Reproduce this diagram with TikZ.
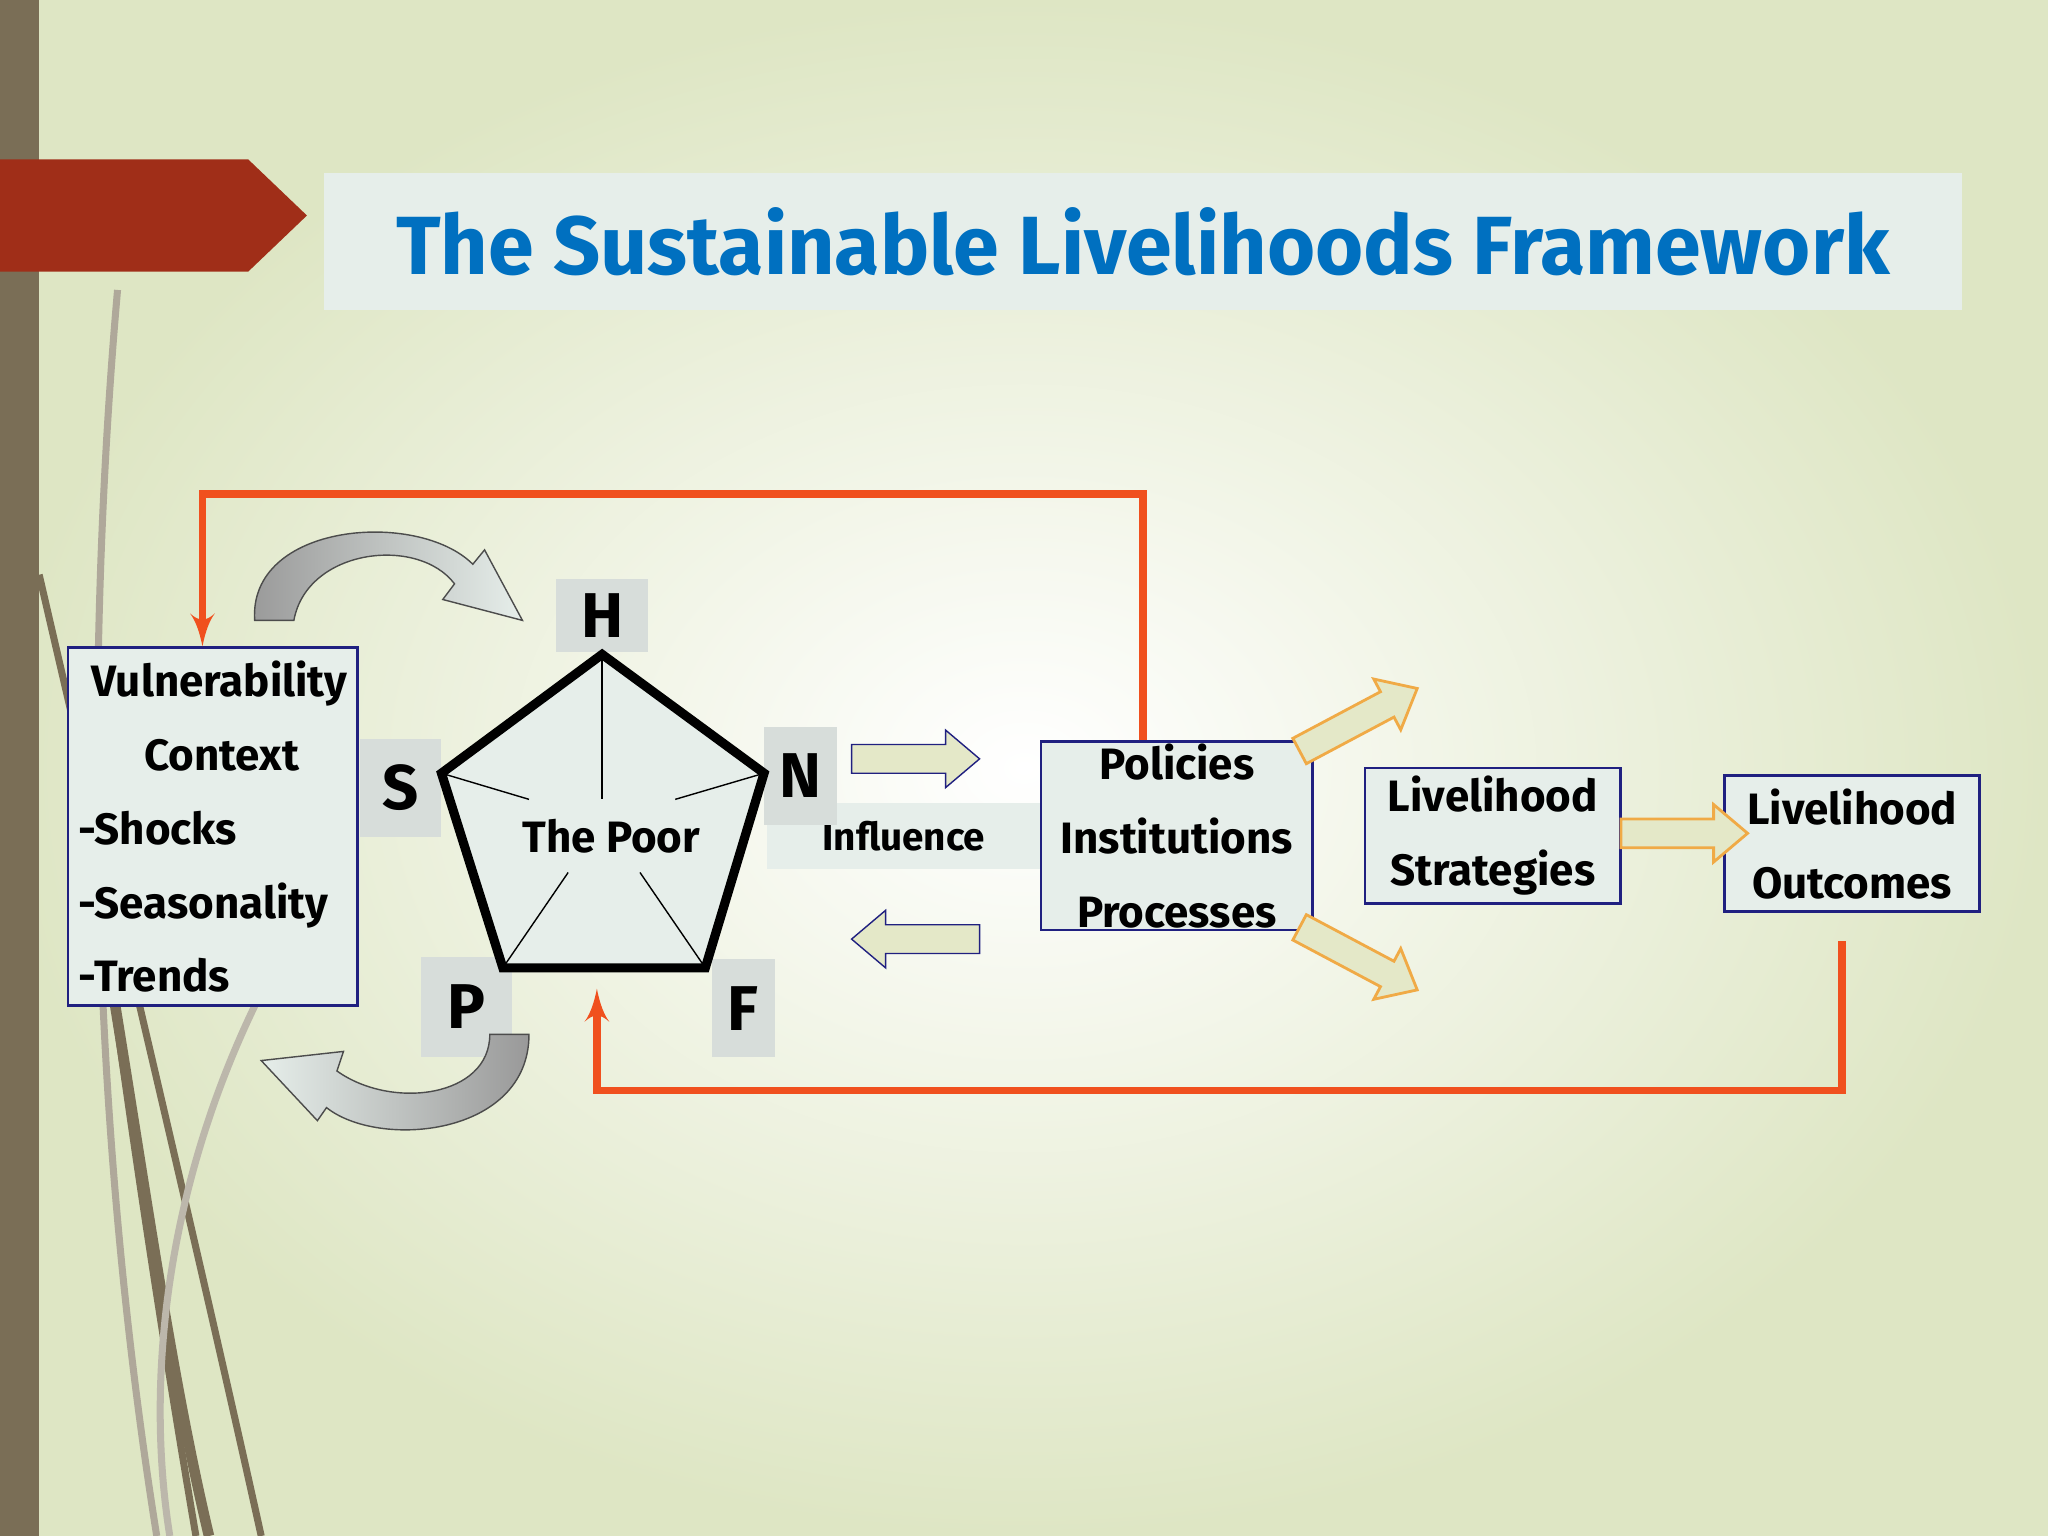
\documentclass[tikz,border=0pt]{standalone}
\usepackage{fontspec}
\setmainfont{Fira Sans}
\usepackage{tikz}
\usetikzlibrary{shapes,arrows,positioning}
\definecolor{bggreen}{RGB}{222,230,196}
\definecolor{boxfill}{RGB}{230,238,234}
\definecolor{navyline}{RGB}{32,32,128}
\definecolor{titleblue}{RGB}{0,112,192}
\definecolor{fbred}{RGB}{240,80,30}
\definecolor{barbrown}{RGB}{122,110,86}
\definecolor{tagred}{RGB}{160,46,24}
\definecolor{orangeline}{RGB}{240,170,70}
\definecolor{arrowfill}{RGB}{228,232,200}
\newdimen\pxu \pxu=0.3716pt
\newcommand*{\blockarrow}[5]{% x, y, angle, length, style
  \begin{scope}[shift={(#1,#2)},rotate=#3]
    \draw[#5] (0,-11) -- (#4-26,-11) -- (#4-26,-22) -- (#4,0) -- (#4-26,22)
      -- (#4-26,11) -- (0,11) -- cycle;
  \end{scope}}
\begin{document}
\begin{tikzpicture}[x=0.013061cm,y=-0.013061cm,
    box/.style ={rectangle, draw=navyline, thick, fill=boxfill,
      font=\bfseries\fontsize{12.5}{21}\selectfont, align=center, inner sep=0pt},
    letter/.style ={rectangle, draw=none, fill=boxfill!85!gray,
      font=\bfseries\fontsize{18}{20}\selectfont, inner sep=0pt},
    feedback/.style ={draw=fbred, line width=2.2pt, -latex'},
    navyarrow/.style ={draw=navyline, fill=arrowfill, thin},
    orangearrow/.style ={draw=orangeline, fill=arrowfill, thick}]
  % background
  \shade[inner color=white, outer color=bggreen] (0,0) rectangle (1568,1176);
  \useasboundingbox (0,0) rectangle (1568,1176);
  \fill[barbrown] (0,0) rectangle (30,1176);
  \fill[tagred] (0,122) -- (190,122) -- (235,165) -- (190,208) -- (0,208) -- cycle;
  % decorative strokes
  \begin{scope}[draw=barbrown, line width=2pt]
    \draw (30,440) .. controls (90,700) and (150,950) .. (200,1176);
    \draw (60,560) .. controls (90,800) and (120,1000) .. (150,1176);
    \draw[line width=3pt] (80,720) .. controls (110,900) and (130,1050) .. (160,1176);
    \draw[barbrown!60] (90,222) .. controls (70,450) and (60,800) .. (120,1176);
    \draw[barbrown!50] (200,760) .. controls (130,900) and (110,1050) .. (130,1176);
  \end{scope}
  % title
  \node[rectangle, fill=boxfill, minimum width=1254\pxu, minimum height=105\pxu, inner sep=0pt,
    font=\bfseries\fontsize{23.5}{26}\selectfont, text=titleblue]
    (title) at (875,185) {The Sustainable Livelihoods Framework};
  % boxes
  \node[box, minimum width=222\pxu, minimum height=274\pxu, align=left] (vuln) at (163,633)
    {\hspace*{0.3em}Vulnerability\\\hspace*{1.5em}Context\\-Shocks\\-Seasonality\\-Trends};
  \node[rectangle, fill=boxfill, minimum width=209\pxu, minimum height=51\pxu, inner sep=0pt,
    font=\bfseries\fontsize{11}{13}\selectfont] (infl) at (692,640) {Influence};
  \node[box, minimum width=208\pxu, minimum height=144\pxu] (pol) at (901,640)
    {Policies\\Institutions\\Processes};
  \node[box, minimum width=196\pxu, minimum height=104\pxu] (strat) at (1143,640)
    {Livelihood\\Strategies};
  \node[box, minimum width=195\pxu, minimum height=104\pxu] (outc) at (1418,646)
    {Livelihood\\Outcomes};
  % letters
  \node[letter, minimum width=70\pxu, minimum height=56\pxu] (H) at (461,471) {H};
  \node[letter, minimum width=62\pxu, minimum height=75\pxu] (S) at (307,603) {S};
  \node[letter, minimum width=56\pxu, minimum height=75\pxu] (N) at (613,594) {N};
  \node[letter, minimum width=70\pxu, minimum height=76\pxu] (P) at (357,771) {P};
  \node[letter, minimum width=48\pxu, minimum height=75\pxu] (F) at (569,772) {F};
  % pentagon
  \coordinate (vH) at (461,501);
  \coordinate (vN) at (585,592);
  \coordinate (vF) at (540,741);
  \coordinate (vP) at (385,741);
  \coordinate (vS) at (338,592);
  \fill[boxfill] (vH) -- (vN) -- (vF) -- (vP) -- (vS) -- cycle;
  \draw[thin] (vH) -- (461,612);
  \draw[thin] (vS) -- (405,612);
  \draw[thin] (vN) -- (517,612);
  \draw[thin] (vP) -- (435,668);
  \draw[thin] (vF) -- (490,668);
  \draw[line width=2.6pt, line join=miter] (vH) -- (vN) -- (vF) -- (vP) -- (vS) -- cycle;
  \node[font=\bfseries\fontsize{12.5}{14}\selectfont] (poor) at (468,640) {The Poor};
  % curved arrows
  \shade[left color=gray!80, right color=boxfill, draw=black!70, thin]
    (195,475) .. controls (190,400) and (320,390) .. (362,432) -- (371,421)
    -- (400,475) -- (339,459) -- (348,447) .. controls (320,410) and (235,420) .. (225,475) -- cycle;
  \shade[right color=gray!80, left color=boxfill, draw=black!70, thin]
    (405,792) .. controls (405,870) and (290,880) .. (250,848) -- (243,858)
    -- (200,812) -- (263,805) -- (258,820) .. controls (300,850) and (375,840) .. (375,792) -- cycle;
  % influence arrows
  \blockarrow{652}{581}{0}{98}{navyarrow}
  \blockarrow{750}{719}{180}{98}{navyarrow}
  % orange arrows
  \blockarrow{995}{575}{28}{102}{orangearrow}
  \blockarrow{995}{710}{-28}{102}{orangearrow}
  \blockarrow{1241}{638}{0}{97}{orangearrow}
  % feedback loops
  \coordinate (fb1) at (875,378);
  \coordinate (fb2) at (155,378);
  \coordinate (fb3) at (1410,835);
  \coordinate (fb4) at (457,835);
  \draw[feedback] (pol.north -| fb1) -- (fb1) -- (fb2) -- (vuln.north -| fb2);
  \draw[feedback] ([yshift=-8]outc.south -| fb3) -- (fb3) -- (fb4) -- (457,757);
\end{tikzpicture}
\end{document}
